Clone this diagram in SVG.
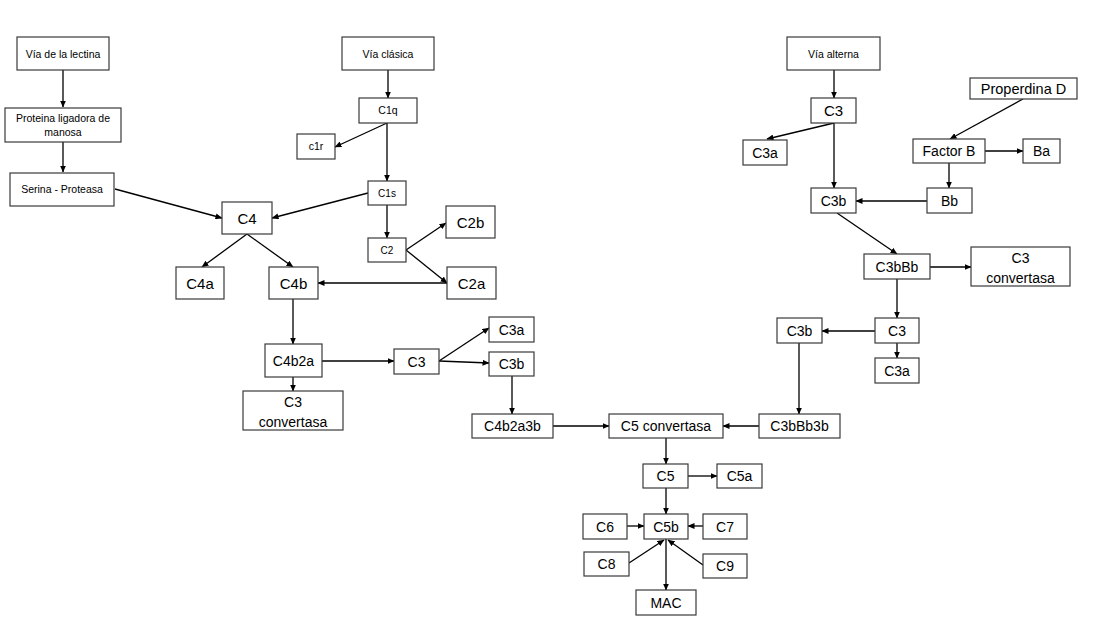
<svg xmlns="http://www.w3.org/2000/svg" width="1101" height="640" viewBox="0 0 1101 640">
<style>
rect{fill:#fff;stroke:#3a3a3a;stroke-width:1.2}
text{font-family:"Liberation Sans",Arial,sans-serif;fill:#000;text-anchor:middle}
.s{font-size:10.5px}
.xs{font-size:10px}
.m{font-size:14px}
.l{font-size:15px}
#connectors line{stroke:#000;stroke-width:1.3;marker-end:url(#ah)}
</style>
<defs>
<marker id="ah" markerUnits="userSpaceOnUse" markerWidth="7" markerHeight="6" refX="6.5" refY="3" orient="auto">
<path d="M0,0 L7,3 L0,6 Z" fill="#000"/>
</marker>
</defs>
<rect x="0" y="0" width="1101" height="640" style="fill:#fff;stroke:none"/>
<g id="connectors">
<line x1="63" y1="70" x2="63" y2="107"/>
<line x1="63" y1="142" x2="63" y2="172"/>
<line x1="115" y1="189" x2="222" y2="218"/>
<line x1="247" y1="234" x2="202" y2="267"/>
<line x1="247" y1="234" x2="293" y2="267"/>
<line x1="388" y1="70" x2="388" y2="98"/>
<line x1="387" y1="123" x2="335" y2="147"/>
<line x1="387" y1="123" x2="387" y2="181"/>
<line x1="368" y1="193" x2="272" y2="218"/>
<line x1="387" y1="205" x2="387" y2="238"/>
<line x1="406" y1="250" x2="446" y2="223"/>
<line x1="406" y1="250" x2="447" y2="283"/>
<line x1="447" y1="283" x2="318" y2="283"/>
<line x1="293" y1="299" x2="293" y2="344"/>
<line x1="322" y1="361" x2="394" y2="361"/>
<line x1="293" y1="377" x2="293" y2="391"/>
<line x1="439" y1="361" x2="489" y2="328"/>
<line x1="439" y1="361" x2="489" y2="363"/>
<line x1="512" y1="376" x2="512" y2="414"/>
<line x1="553" y1="426" x2="609" y2="426"/>
<line x1="834" y1="70" x2="834" y2="98"/>
<line x1="834" y1="123" x2="767" y2="139"/>
<line x1="834" y1="123" x2="834" y2="188"/>
<line x1="1023" y1="99" x2="950" y2="139"/>
<line x1="985" y1="151" x2="1023" y2="151"/>
<line x1="949" y1="163" x2="949" y2="188"/>
<line x1="927" y1="201" x2="856" y2="201"/>
<line x1="837" y1="213" x2="897" y2="254"/>
<line x1="930" y1="267" x2="971" y2="267"/>
<line x1="897" y1="279" x2="897" y2="318"/>
<line x1="875" y1="331" x2="822" y2="331"/>
<line x1="897" y1="343" x2="897" y2="358"/>
<line x1="799" y1="343" x2="799" y2="414"/>
<line x1="759" y1="426" x2="723" y2="426"/>
<line x1="666" y1="438" x2="666" y2="464"/>
<line x1="688" y1="476" x2="717" y2="476"/>
<line x1="666" y1="488" x2="666" y2="514"/>
<line x1="627" y1="526" x2="644" y2="526"/>
<line x1="703" y1="526" x2="688" y2="526"/>
<line x1="629" y1="563" x2="664" y2="540"/>
<line x1="703" y1="565" x2="668" y2="540"/>
<line x1="666" y1="539" x2="666" y2="590"/>
</g>
<g id="via-lectina"><rect x="17" y="37" width="92" height="33"/><text class="s" x="63" y="57.5">Vía de la lectina</text></g>
<g id="proteina"><rect x="5" y="108" width="116" height="34"/><text class="s" x="63" y="122">Proteina ligadora de</text><text class="s" x="63" y="136">manosa</text></g>
<g id="serina"><rect x="10" y="173" width="104" height="33"/><text class="s" x="62" y="193">Serina - Proteasa</text></g>
<g id="c4"><rect x="222" y="202" width="50" height="32"/><text class="l" x="247" y="223.5">C4</text></g>
<g id="c4a"><rect x="176" y="267" width="48" height="32"/><text class="l" x="200" y="288.5">C4a</text></g>
<g id="c4b"><rect x="269" y="267" width="49" height="32"/><text class="l" x="293.5" y="288.5">C4b</text></g>
<g id="via-clasica"><rect x="342" y="37" width="92" height="33"/><text class="s" x="388" y="57.5">Vía clásica</text></g>
<g id="c1q"><rect x="359" y="98" width="58" height="25"/><text class="s" x="388" y="114">C1q</text></g>
<g id="c1r"><rect x="297" y="134" width="38" height="25"/><text class="s" x="316" y="150">c1r</text></g>
<g id="c1s"><rect x="368" y="181" width="38" height="24"/><text class="xs" x="387" y="196.5">C1s</text></g>
<g id="c2"><rect x="368" y="238" width="38" height="24"/><text class="xs" x="387" y="253.5">C2</text></g>
<g id="c2b"><rect x="446" y="206" width="49" height="32"/><text class="l" x="470.5" y="227.5">C2b</text></g>
<g id="c2a"><rect x="447" y="267" width="49" height="32"/><text class="l" x="471.5" y="288.5">C2a</text></g>
<g id="c4b2a"><rect x="265" y="344" width="57" height="33"/><text class="m" x="293.5" y="365.5">C4b2a</text></g>
<g id="c3conv-l"><rect x="243" y="391" width="100" height="39"/><text class="m" x="293" y="407">C3</text><text class="m" x="293" y="427">convertasa</text></g>
<g id="c3-m"><rect x="394" y="349" width="45" height="25"/><text class="m" x="416.5" y="366.5">C3</text></g>
<g id="c3a-m"><rect x="489" y="317" width="45" height="25"/><text class="m" x="511.5" y="334.5">C3a</text></g>
<g id="c3b-m"><rect x="489" y="352" width="45" height="24"/><text class="m" x="511.5" y="369">C3b</text></g>
<g id="c4b2a3b"><rect x="472" y="414" width="81" height="24"/><text class="m" x="512.5" y="431">C4b2a3b</text></g>
<g id="c5conv"><rect x="609" y="414" width="114" height="24"/><text class="m" x="666" y="431">C5 convertasa</text></g>
<g id="via-alterna"><rect x="787" y="37" width="93" height="33"/><text class="s" x="833.5" y="57.5">Vía alterna</text></g>
<g id="c3-alt"><rect x="811" y="98" width="45" height="25"/><text class="l" x="833.5" y="116">C3</text></g>
<g id="c3a-alt"><rect x="743" y="140" width="44" height="25"/><text class="m" x="765" y="157.5">C3a</text></g>
<g id="c3b-alt"><rect x="811" y="188" width="45" height="25"/><text class="m" x="833.5" y="205.5">C3b</text></g>
<g id="properdina"><rect x="970" y="78" width="107" height="21"/><text class="m" x="1023.5" y="93.5" style="font-size:14.5px">Properdina D</text></g>
<g id="factor-b"><rect x="913" y="139" width="72" height="24"/><text class="m" x="949" y="156">Factor B</text></g>
<g id="ba"><rect x="1023" y="139" width="37" height="24"/><text class="m" x="1041.5" y="156">Ba</text></g>
<g id="bb"><rect x="927" y="188" width="45" height="25"/><text class="m" x="949.5" y="205.5">Bb</text></g>
<g id="c3bbb"><rect x="864" y="254" width="66" height="25"/><text class="m" x="897" y="271.5">C3bBb</text></g>
<g id="c3conv-r"><rect x="971" y="247" width="99" height="39"/><text class="m" x="1020.5" y="263">C3</text><text class="m" x="1020.5" y="283">convertasa</text></g>
<g id="c3-r"><rect x="875" y="318" width="44" height="25"/><text class="m" x="897" y="335.5">C3</text></g>
<g id="c3b-r"><rect x="777" y="318" width="45" height="25"/><text class="m" x="799.5" y="335.5">C3b</text></g>
<g id="c3a-r"><rect x="875" y="358" width="44" height="25"/><text class="m" x="897" y="375.5">C3a</text></g>
<g id="c3bbb3b"><rect x="759" y="414" width="81" height="24"/><text class="m" x="799.5" y="431">C3bBb3b</text></g>
<g id="c5"><rect x="643" y="464" width="45" height="24"/><text class="m" x="665.5" y="481">C5</text></g>
<g id="c5a"><rect x="717" y="464" width="45" height="24"/><text class="m" x="739.5" y="481">C5a</text></g>
<g id="c5b"><rect x="644" y="514" width="44" height="25"/><text class="m" x="666" y="531.5">C5b</text></g>
<g id="c6"><rect x="583" y="514" width="44" height="25"/><text class="m" x="605" y="531.5">C6</text></g>
<g id="c7"><rect x="703" y="514" width="44" height="25"/><text class="m" x="725" y="531.5">C7</text></g>
<g id="c8"><rect x="584" y="552" width="45" height="24"/><text class="m" x="606.5" y="569">C8</text></g>
<g id="c9"><rect x="703" y="554" width="44" height="24"/><text class="m" x="725" y="571">C9</text></g>
<g id="mac"><rect x="636" y="590" width="60" height="25"/><text class="m" x="666" y="607.5">MAC</text></g>
</svg>
